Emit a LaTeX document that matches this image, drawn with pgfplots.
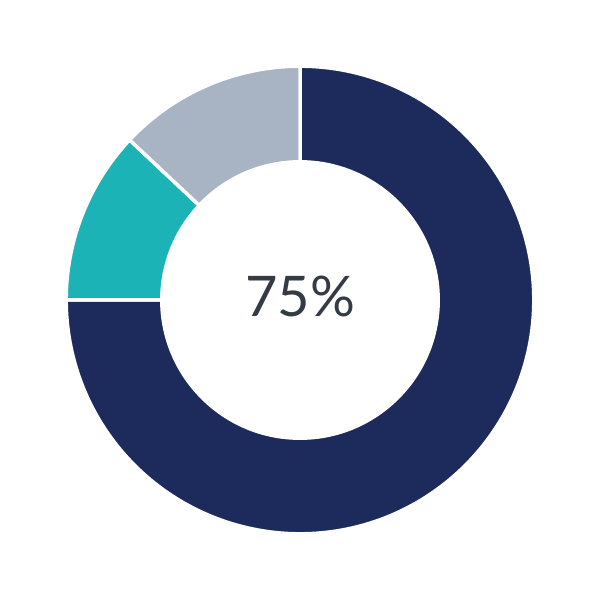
\documentclass[border=0pt]{standalone}
\usepackage{pgfplots}
\pgfplotsset{compat=1.18}
\usepackage{pgfplotstable}
\usepackage{fontspec}
\setmainfont{Lato}
\definecolor{navyc}{HTML}{1C2B5B}
\definecolor{tealc}{HTML}{1CB3B6}
\definecolor{greyc}{HTML}{A8B3C3}
\definecolor{textc}{HTML}{353B45}

\pgfplotstableread{
share col
75 navyc
12 tealc
13 greyc
}\donutdata

\begin{document}
\begin{tikzpicture}
\begin{axis}[
  scale only axis, width=300pt, height=300pt,
  xmin=-300, xmax=300, ymin=-300, ymax=300,
  hide axis, clip=false]
\path (axis cs:-300,-300) rectangle (axis cs:300,300);
\def\startang{90}
\pgfplotsforeachungrouped \i in {0,1,2}{%
  \pgfplotstablegetelem{\i}{share}\of\donutdata
  \let\v\pgfplotsretval
  \pgfplotstablegetelem{\i}{col}\of\donutdata
  \let\c\pgfplotsretval
  \pgfmathsetmacro\ea{\startang-\v*3.6}%
  \pgfmathsetmacro\xa{233.8*cos(\startang)}%
  \pgfmathsetmacro\ya{233.8*sin(\startang)}%
  \pgfmathsetmacro\xb{138.2*cos(\ea)}%
  \pgfmathsetmacro\yb{138.2*sin(\ea)}%
  \edef\temp{\noexpand\fill[\c, draw=white, line width=1.75pt, line join=miter]
    (axis cs:\xa,\ya) arc[start angle=\startang, end angle=\ea, radius=116.9pt]
    -- (axis cs:\xb,\yb) arc[start angle=\ea, end angle=\startang, radius=69.1pt] -- cycle;}%
  \temp
  \global\let\startang\ea
}
\node[text=textc, font=\fontsize{28}{34}\selectfont] at (axis cs:0,3.5) {75\%};
\end{axis}
\end{tikzpicture}
\end{document}
